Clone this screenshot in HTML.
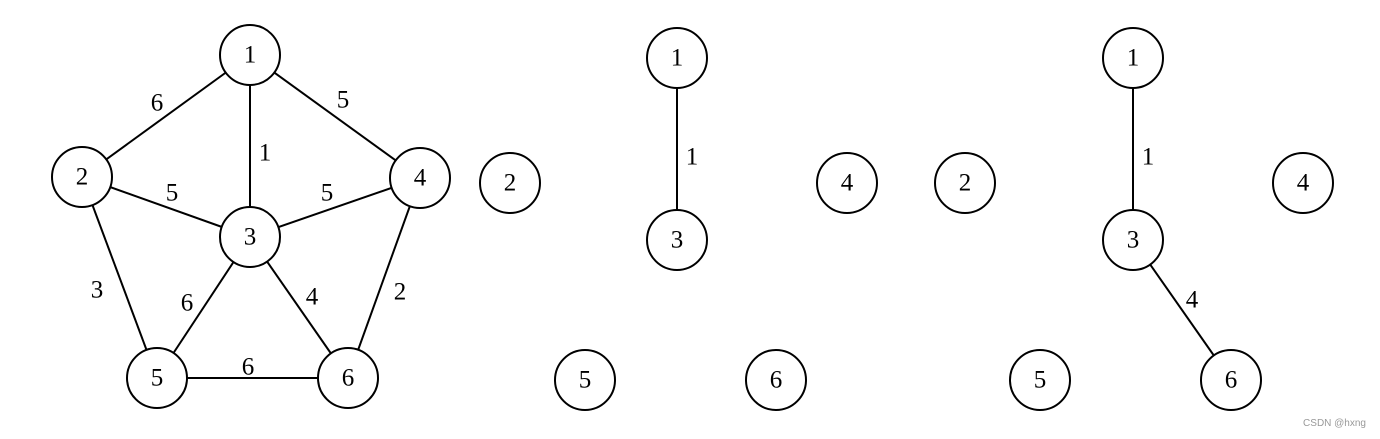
<!DOCTYPE html>
<html><head><meta charset="utf-8"><style>
html,body{margin:0;padding:0;background:#fff;}
svg{display:block;}
text{font-family:"Liberation Serif",serif;font-size:25px;fill:#000;}
.w{font-family:"Liberation Sans",sans-serif;font-size:10px;fill:#999;}
</style></head><body>
<svg width="1380" height="439" viewBox="0 0 1380 439" xmlns="http://www.w3.org/2000/svg">
<g stroke="#000" stroke-width="2" fill="none">
<line x1="250" y1="55" x2="82" y2="177"/>
<line x1="250" y1="55" x2="420" y2="178"/>
<line x1="250" y1="55" x2="250" y2="237"/>
<line x1="82" y1="177" x2="250" y2="237"/>
<line x1="420" y1="178" x2="250" y2="237"/>
<line x1="82" y1="177" x2="157" y2="378"/>
<line x1="420" y1="178" x2="348" y2="378"/>
<line x1="250" y1="237" x2="157" y2="378"/>
<line x1="250" y1="237" x2="348" y2="378"/>
<line x1="157" y1="378" x2="348" y2="378"/>
<line x1="677" y1="58" x2="677" y2="240"/>
<line x1="1133" y1="58" x2="1133" y2="240"/>
<line x1="1133" y1="240" x2="1231" y2="380"/>
</g>
<g stroke="#000" stroke-width="2" fill="#fff">
<circle cx="250" cy="55" r="30"/><circle cx="82" cy="177" r="30"/><circle cx="250" cy="237" r="30"/>
<circle cx="420" cy="178" r="30"/><circle cx="157" cy="378" r="30"/><circle cx="348" cy="378" r="30"/>
<circle cx="510" cy="183" r="30"/>
<circle cx="677" cy="58" r="30"/><circle cx="677" cy="240" r="30"/><circle cx="847" cy="183" r="30"/>
<circle cx="585" cy="380" r="30"/><circle cx="776" cy="380" r="30"/>
<circle cx="965" cy="183" r="30"/><circle cx="1133" cy="58" r="30"/><circle cx="1133" cy="240" r="30"/>
<circle cx="1303" cy="183" r="30"/><circle cx="1040" cy="380" r="30"/><circle cx="1231" cy="380" r="30"/>
</g>
<g text-anchor="middle" dominant-baseline="central">
<text x="250" y="55">1</text><text x="82" y="177">2</text><text x="250" y="237">3</text>
<text x="420" y="178">4</text><text x="157" y="378">5</text><text x="348" y="378">6</text>
<text x="510" y="183">2</text>
<text x="677" y="58">1</text><text x="677" y="240">3</text><text x="847" y="183">4</text>
<text x="585" y="380">5</text><text x="776" y="380">6</text>
<text x="965" y="183">2</text><text x="1133" y="58">1</text><text x="1133" y="240">3</text>
<text x="1303" y="183">4</text><text x="1040" y="380">5</text><text x="1231" y="380">6</text>
<text x="157" y="103">6</text><text x="343" y="100">5</text><text x="265" y="153">1</text>
<text x="172" y="193">5</text><text x="327" y="193">5</text><text x="97" y="290">3</text>
<text x="187" y="303">6</text><text x="312" y="297">4</text><text x="400" y="292">2</text>
<text x="248" y="367">6</text>
<text x="692" y="157">1</text>
<text x="1148" y="157">1</text>
<text x="1192" y="300">4</text>
</g>
<text class="w" x="1366" y="426" text-anchor="end">CSDN @hxng</text>
</svg>
</body></html>
